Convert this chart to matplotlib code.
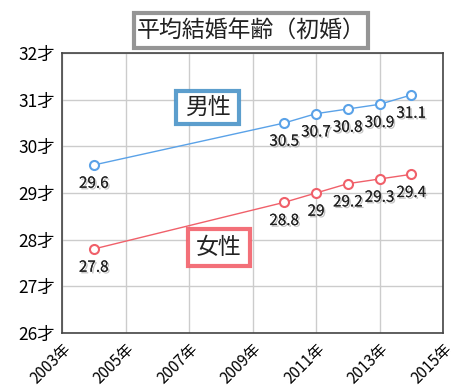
import matplotlib
matplotlib.use('Agg')
import matplotlib.pyplot as plt
import matplotlib.patheffects as pe
from matplotlib.patches import Rectangle
from matplotlib.colors import to_rgba

plt.rcParams['font.family'] = ['Noto Sans CJK JP', 'DejaVu Sans']

# データ
years = [2004, 2010, 2011, 2012, 2013, 2014]
male = [29.6, 30.5, 30.7, 30.8, 30.9, 31.1]
female = [27.8, 28.8, 29.0, 29.2, 29.3, 29.4]
male_labels = ['29.6', '30.5', '30.7', '30.8', '30.9', '31.1']
female_labels = ['27.8', '28.8', '29', '29.2', '29.3', '29.4']
x_ticks = [2003, 2005, 2007, 2009, 2011, 2013, 2015]
y_ticks = [26, 27, 28, 29, 30, 31, 32]

blue = '#5aa2e8'
red = '#f0606a'
W, H = 474, 389

fig = plt.figure(figsize=(4.74, 3.89), dpi=100)
ax = fig.add_axes([62 / W, 1 - 333 / H, 381 / W, 280 / H])

ax.plot(years, male, color=blue, lw=1, marker='o', ms=6.5, mfc='white', mec=blue, mew=1.5, zorder=3)
ax.plot(years, female, color=red, lw=1, marker='o', ms=6.5, mfc='white', mec=red, mew=1.5, zorder=3)

shadow = [pe.withSimplePatchShadow(offset=(1.2, -1.2), shadow_rgbFace='#999999', alpha=0.6), pe.Normal()]
for x, y, s in zip(years, male, male_labels):
    ax.annotate(s, (x, y), xytext=(0, -7), textcoords='offset points', ha='center', va='top',
                fontsize=11, color='#222222', path_effects=shadow)
for x, y, s in zip(years, female, female_labels):
    ax.annotate(s, (x, y), xytext=(0, -7), textcoords='offset points', ha='center', va='top',
                fontsize=11, color='#222222', path_effects=shadow)

ax.set_xlim(2003, 2015)
ax.set_ylim(26, 32)
ax.set_xticks(x_ticks)
ax.set_xticklabels([f'{v}年' for v in x_ticks], rotation=45, ha='right', rotation_mode='anchor', fontsize=11)
ax.set_yticks(y_ticks)
ax.set_yticklabels([f'{v}才' for v in y_ticks], fontsize=12.5)
ax.tick_params(length=0, pad=5)
ax.grid(True, color='#cccccc', lw=1)
for sp in ax.spines.values():
    sp.set_color('#444444')
    sp.set_linewidth(1.2)


def box(x0, y0, x1, y1, ec, text, fs):
    fig.patches.append(Rectangle((x0 / W, 1 - y1 / H), (x1 - x0) / W, (y1 - y0) / H,
                                 transform=fig.transFigure, fc='white', ec=to_rgba(ec, 0.9),
                                 lw=3, zorder=5))
    fig.text((x0 + x1) / 2 / W, 1 - (y0 + y1) / 2 / H, text, ha='center', va='center',
             fontsize=fs, color='#222222', zorder=6)


# タイトルとラベル
box(134, 13, 368, 48, '#8a8a8a', '平均結婚年齢（初婚）', 16.5)
box(176, 91, 239, 124, '#4a94c8', '男性', 16.5)
box(188, 229, 250, 266, '#f2606a', '女性', 16.5)

fig.savefig('out.png', dpi=100)
